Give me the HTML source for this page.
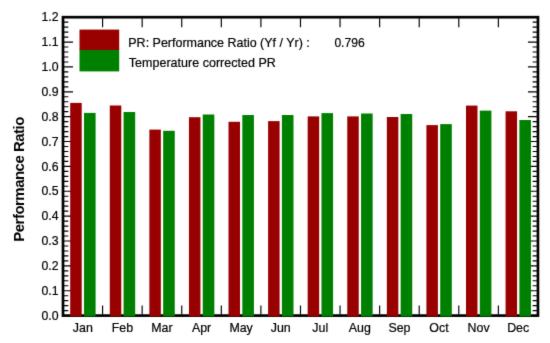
<!DOCTYPE html>
<html><head><meta charset="utf-8"><title>Performance Ratio</title>
<style>html,body{margin:0;padding:0;background:#fff;}body{width:550px;height:343px;overflow:hidden;}svg{display:block;}</style>
</head><body>
<div id="c"><svg width="550" height="343" viewBox="0 0 550 343"><defs><filter id="f" x="0" y="0" width="1" height="1" color-interpolation-filters="sRGB"><feConvolveMatrix order="3" kernelMatrix="0.0100 0.0800 0.0100 0.0800 0.6400 0.0800 0.0100 0.0800 0.0100" edgeMode="duplicate" preserveAlpha="true"/></filter></defs><g filter="url(#f)"><rect width="550" height="343" fill="#fff"/><path d="M64.00 310.63h4.3M532.65 310.63h4.3M64.00 305.65h4.3M532.65 305.65h4.3M64.00 300.68h4.3M532.65 300.68h4.3M64.00 295.71h4.3M532.65 295.71h4.3M64.00 290.73h9.0M527.95 290.73h9.0M64.00 285.76h4.3M532.65 285.76h4.3M64.00 280.79h4.3M532.65 280.79h4.3M64.00 275.81h4.3M532.65 275.81h4.3M64.00 270.84h4.3M532.65 270.84h4.3M64.00 265.87h9.0M527.95 265.87h9.0M64.00 260.89h4.3M532.65 260.89h4.3M64.00 255.92h4.3M532.65 255.92h4.3M64.00 250.95h4.3M532.65 250.95h4.3M64.00 245.97h4.3M532.65 245.97h4.3M64.00 241.00h9.0M527.95 241.00h9.0M64.00 236.03h4.3M532.65 236.03h4.3M64.00 231.05h4.3M532.65 231.05h4.3M64.00 226.08h4.3M532.65 226.08h4.3M64.00 221.11h4.3M532.65 221.11h4.3M64.00 216.13h9.0M527.95 216.13h9.0M64.00 211.16h4.3M532.65 211.16h4.3M64.00 206.19h4.3M532.65 206.19h4.3M64.00 201.21h4.3M532.65 201.21h4.3M64.00 196.24h4.3M532.65 196.24h4.3M64.00 191.27h9.0M527.95 191.27h9.0M64.00 186.29h4.3M532.65 186.29h4.3M64.00 181.32h4.3M532.65 181.32h4.3M64.00 176.35h4.3M532.65 176.35h4.3M64.00 171.37h4.3M532.65 171.37h4.3M64.00 166.40h9.0M527.95 166.40h9.0M64.00 161.43h4.3M532.65 161.43h4.3M64.00 156.45h4.3M532.65 156.45h4.3M64.00 151.48h4.3M532.65 151.48h4.3M64.00 146.51h4.3M532.65 146.51h4.3M64.00 141.53h9.0M527.95 141.53h9.0M64.00 136.56h4.3M532.65 136.56h4.3M64.00 131.59h4.3M532.65 131.59h4.3M64.00 126.61h4.3M532.65 126.61h4.3M64.00 121.64h4.3M532.65 121.64h4.3M64.00 116.67h9.0M527.95 116.67h9.0M64.00 111.69h4.3M532.65 111.69h4.3M64.00 106.72h4.3M532.65 106.72h4.3M64.00 101.75h4.3M532.65 101.75h4.3M64.00 96.77h4.3M532.65 96.77h4.3M64.00 91.80h9.0M527.95 91.80h9.0M64.00 86.83h4.3M532.65 86.83h4.3M64.00 81.85h4.3M532.65 81.85h4.3M64.00 76.88h4.3M532.65 76.88h4.3M64.00 71.91h4.3M532.65 71.91h4.3M64.00 66.93h9.0M527.95 66.93h9.0M64.00 61.96h4.3M532.65 61.96h4.3M64.00 56.99h4.3M532.65 56.99h4.3M64.00 52.01h4.3M532.65 52.01h4.3M64.00 47.04h4.3M532.65 47.04h4.3M64.00 42.07h9.0M527.95 42.07h9.0M64.00 37.09h4.3M532.65 37.09h4.3M64.00 32.12h4.3M532.65 32.12h4.3M64.00 27.15h4.3M532.65 27.15h4.3M64.00 22.17h4.3M532.65 22.17h4.3M102.58 18.20v9.0M102.58 314.60v-9.0M142.16 18.20v9.0M142.16 314.60v-9.0M181.74 18.20v9.0M181.74 314.60v-9.0M221.32 18.20v9.0M221.32 314.60v-9.0M260.90 18.20v9.0M260.90 314.60v-9.0M300.48 18.20v9.0M300.48 314.60v-9.0M340.05 18.20v9.0M340.05 314.60v-9.0M379.63 18.20v9.0M379.63 314.60v-9.0M419.21 18.20v9.0M419.21 314.60v-9.0M458.79 18.20v9.0M458.79 314.60v-9.0M498.37 18.20v9.0M498.37 314.60v-9.0" stroke="#000" stroke-width="1.15" fill="none"/>
<rect x="63.0" y="17.2" width="474.95" height="298.40" fill="none" stroke="#000" stroke-width="2.7"/>
<rect x="70.20" y="102.90" width="11.50" height="213.40" fill="#990000"/>
<rect x="84.00" y="112.90" width="11.60" height="203.40" fill="#008000"/>
<rect x="109.78" y="105.50" width="11.50" height="210.80" fill="#990000"/>
<rect x="123.58" y="112.00" width="11.60" height="204.30" fill="#008000"/>
<rect x="149.36" y="129.60" width="11.50" height="186.70" fill="#990000"/>
<rect x="163.16" y="130.80" width="11.60" height="185.50" fill="#008000"/>
<rect x="188.94" y="117.20" width="11.50" height="199.10" fill="#990000"/>
<rect x="202.74" y="114.50" width="11.60" height="201.80" fill="#008000"/>
<rect x="228.52" y="121.80" width="11.50" height="194.50" fill="#990000"/>
<rect x="242.32" y="115.00" width="11.60" height="201.30" fill="#008000"/>
<rect x="268.10" y="121.10" width="11.50" height="195.20" fill="#990000"/>
<rect x="281.90" y="115.00" width="11.60" height="201.30" fill="#008000"/>
<rect x="307.68" y="116.40" width="11.50" height="199.90" fill="#990000"/>
<rect x="321.48" y="113.10" width="11.60" height="203.20" fill="#008000"/>
<rect x="347.25" y="116.40" width="11.50" height="199.90" fill="#990000"/>
<rect x="361.05" y="113.50" width="11.60" height="202.80" fill="#008000"/>
<rect x="386.83" y="117.00" width="11.50" height="199.30" fill="#990000"/>
<rect x="400.63" y="114.00" width="11.60" height="202.30" fill="#008000"/>
<rect x="426.41" y="125.10" width="11.50" height="191.20" fill="#990000"/>
<rect x="440.21" y="124.10" width="11.60" height="192.20" fill="#008000"/>
<rect x="465.99" y="105.60" width="11.50" height="210.70" fill="#990000"/>
<rect x="479.79" y="110.60" width="11.60" height="205.70" fill="#008000"/>
<rect x="505.57" y="111.30" width="11.50" height="205.00" fill="#990000"/>
<rect x="519.37" y="120.00" width="11.60" height="196.30" fill="#008000"/>
<rect x="79.5" y="49.5" width="39.7" height="21.9" fill="#008000"/>
<rect x="79.5" y="29.6" width="39.7" height="20.4" fill="#990000"/>
<g font-family="Liberation Sans, Arial, sans-serif" fill="#000" stroke="#000" stroke-width="0.2"><text transform="translate(128.30 46.70) scale(1 1.06)" font-size="12.5" textLength="181.5" lengthAdjust="spacing">PR: Performance Ratio (Yf / Yr) :</text><text transform="translate(334.40 46.70) scale(1 1.06)" font-size="12.1">0.796</text><text transform="translate(128.80 66.60) scale(1 1.06)" font-size="12.5" textLength="147" lengthAdjust="spacing">Temperature corrected PR</text><text transform="translate(58.50 319.80) scale(1 1.06)" font-size="12.3" text-anchor="end">0.0</text><text transform="translate(58.50 294.93) scale(1 1.06)" font-size="12.3" text-anchor="end">0.1</text><text transform="translate(58.50 270.07) scale(1 1.06)" font-size="12.3" text-anchor="end">0.2</text><text transform="translate(58.50 245.20) scale(1 1.06)" font-size="12.3" text-anchor="end">0.3</text><text transform="translate(58.50 220.33) scale(1 1.06)" font-size="12.3" text-anchor="end">0.4</text><text transform="translate(58.50 195.47) scale(1 1.06)" font-size="12.3" text-anchor="end">0.5</text><text transform="translate(58.50 170.60) scale(1 1.06)" font-size="12.3" text-anchor="end">0.6</text><text transform="translate(58.50 145.73) scale(1 1.06)" font-size="12.3" text-anchor="end">0.7</text><text transform="translate(58.50 120.87) scale(1 1.06)" font-size="12.3" text-anchor="end">0.8</text><text transform="translate(58.50 96.00) scale(1 1.06)" font-size="12.3" text-anchor="end">0.9</text><text transform="translate(58.50 71.13) scale(1 1.06)" font-size="12.3" text-anchor="end">1.0</text><text transform="translate(58.50 46.27) scale(1 1.06)" font-size="12.3" text-anchor="end">1.1</text><text transform="translate(58.50 21.40) scale(1 1.06)" font-size="12.3" text-anchor="end">1.2</text><text transform="translate(82.79 332.30) scale(1 1.06)" font-size="12.4" text-anchor="middle">Jan</text><text transform="translate(122.37 332.30) scale(1 1.06)" font-size="12.4" text-anchor="middle">Feb</text><text transform="translate(161.95 332.30) scale(1 1.06)" font-size="12.4" text-anchor="middle">Mar</text><text transform="translate(201.53 332.30) scale(1 1.06)" font-size="12.4" text-anchor="middle">Apr</text><text transform="translate(241.11 332.30) scale(1 1.06)" font-size="12.4" text-anchor="middle">May</text><text transform="translate(280.69 332.30) scale(1 1.06)" font-size="12.4" text-anchor="middle">Jun</text><text transform="translate(320.26 332.30) scale(1 1.06)" font-size="12.4" text-anchor="middle">Jul</text><text transform="translate(359.84 332.30) scale(1 1.06)" font-size="12.4" text-anchor="middle">Aug</text><text transform="translate(399.42 332.30) scale(1 1.06)" font-size="12.4" text-anchor="middle">Sep</text><text transform="translate(439.00 332.30) scale(1 1.06)" font-size="12.4" text-anchor="middle">Oct</text><text transform="translate(478.58 332.30) scale(1 1.06)" font-size="12.4" text-anchor="middle">Nov</text><text transform="translate(518.16 332.30) scale(1 1.06)" font-size="12.4" text-anchor="middle">Dec</text></g>
<text transform="translate(24 179.2) rotate(-90)" text-anchor="middle" textLength="125" lengthAdjust="spacing" font-family="Liberation Sans, Arial, sans-serif" font-size="15" font-weight="bold" fill="#000">Performance Ratio</text></g></svg></div>
</body></html>
